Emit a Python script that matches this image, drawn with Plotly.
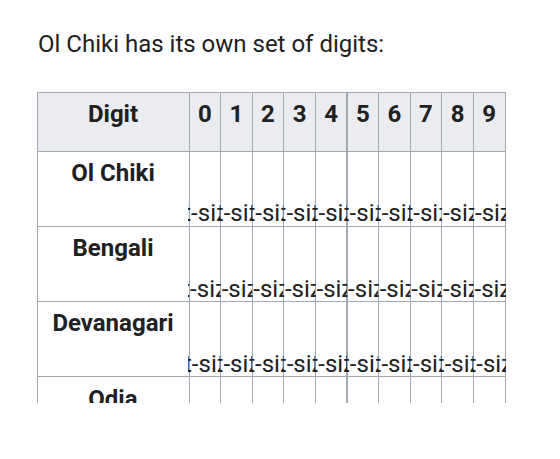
import plotly.graph_objects as go

header = ["Digit", "0", "1", "2", "3", "4", "5", "6", "7", "8", "9"]
scripts = ["Ol Chiki", "Bengali", "Devanagari", "Odia"]
ol_chiki = list("᱐᱑᱒᱓᱔᱕᱖᱗᱘᱙")
bengali = list("০১২৩৪৫৬৭৮৯")
devanagari = list("०१२३४५६७८९")
odia = list("୦୧୨୩୪୫୬୭୮୯")

rows = [ol_chiki, bengali, devanagari, odia]
columns = [[f"<b>{s}</b>" for s in scripts]]
for i in range(10):
    columns.append([f"<span style='font-size:27px'>{r[i]}</span>" for r in rows])

border = "#a2a9b1"
# page renders ~9px right / 8px down, so compensate
fig = go.Figure(go.Table(
    domain=dict(x=[29 / 560, 498 / 560], y=[1 - 395 / 459, 1 - 84 / 459]),
    columnwidth=[152] + [31.6] * 10,
    header=dict(
        values=[f"<b>{h}</b>" for h in header],
        fill_color="#eaecf0", line_color=border, height=59,
        font=dict(family="Roboto, Noto Sans", size=24, color="#202122"),
        align="center",
    ),
    cells=dict(
        values=columns,
        fill_color="white", line_color=border, height=63,
        font=dict(family="Roboto, Noto Sans", size=24, color="#202122"),
        align="center",
    ),
))
fig.add_annotation(
    text="Ol Chiki has its own set of digits:", x=28 / 560, y=1 - 36 / 459,
    xref="paper", yref="paper", xanchor="left", yanchor="middle", showarrow=False,
    font=dict(family="Roboto", size=24, color="#202122"),
)
fig.update_layout(width=560, height=459, margin=dict(l=0, r=0, t=0, b=0),
                  paper_bgcolor="white")
fig.write_html("out.html")
